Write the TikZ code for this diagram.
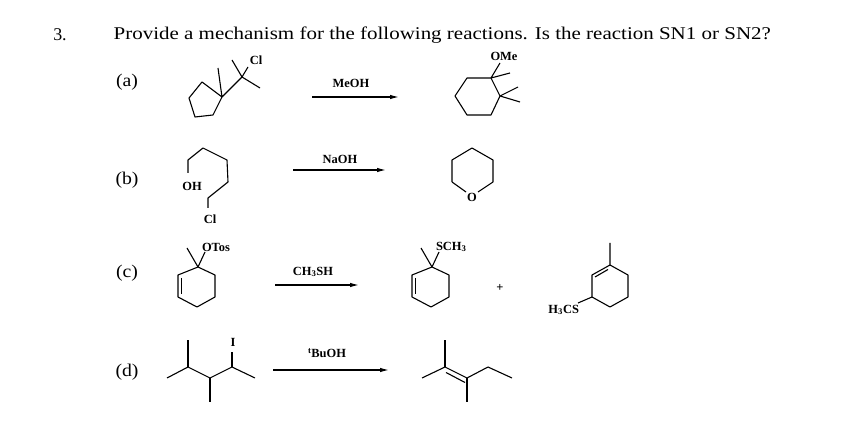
\documentclass[tikz,border=0pt]{standalone}
\usepackage{fontspec}
\usetikzlibrary{arrows.meta}
\setmainfont{Liberation Serif}
\begin{document}
\begin{tikzpicture}[x=1bp,y=-1bp,line width=1.1bp,
 lab/.style={font=\bfseries\fontsize{12.5}{13}\selectfont,inner sep=0.5bp},
 arr/.style={line width=1.6bp,-{Latex[length=10bp,width=4.5bp]}},
 bnd/.style={line join=round}]
\useasboundingbox (0,0) rectangle (864,436);
\node (n3) at (60,35) {\fontsize{18}{20}\selectfont 3.};
\node[anchor=west,inner sep=0,xscale=1.17] (ttl) at (113,35) {\fontsize{18}{20}\selectfont Provide a mechanism for the following reactions. Is the reaction SN1 or SN2?};
\foreach \t/\y in {a/82,b/180,c/273,d/372}
 \node[xscale=1.1] (l\t) at (127,\y) {\fontsize{18}{20}\selectfont (\t)};
% (a) reactant
\draw[bnd] (189,98)--(202,82)--(222,97)--(213,115)--(195,117)--cycle;
\draw (222,97)--(218,68) (222,97)--(242,77)--(232,60) (242,77)--(260,88) (242,77)--(248,67);
\node[lab] (cl1) at (256,60) {Cl};
% arrow a
\coordinate (a1) at (312,97); \coordinate (a2) at (400,97);
\draw[arr] (a1)--(a2);
\node[lab] (r1) at (351,83) {MeOH};
% (a) product
\draw[bnd] (467,78)--(491,78)--(500,96)--(491,115)--(467,115)--(455,96)--cycle;
\draw (491,78)--(500,63) (491,78)--(510,73) (500,96)--(518,87) (500,96)--(520,102);
\node[lab] (ome) at (504,56) {OMe};
% (b) reactant
\draw[bnd] (188,173)--(188,160)--(203,148)--(227,160)--(228,182)--(208,198)--(208,208);
\node[lab] (oh) at (192,186) {OH};
\node[lab] (cl2) at (210,219) {Cl};
\coordinate (b1) at (293,170); \coordinate (b2) at (387,170);
\draw[arr] (b1)--(b2);
\node[lab] (r2) at (340,159) {NaOH};
\draw[bnd] (452,182)--(452,160)--(472,148)--(493,160)--(493,182)--(478,192);
\draw (452,182)--(466,192);
\node[lab] (ox) at (472,197) {O};
% (c) reactant
\draw[bnd] (198,267)--(215,275)--(215,297)--(197,307)--(178,297)--(178,275)--cycle;
\draw (181.5,278)--(181.5,294);
\draw (198,267)--(187,248) (198,267)--(205,252);
\node[lab,anchor=west] (otos) at (201,247) {OTos};
\coordinate (c1) at (275,285); \coordinate (c2) at (360,285);
\draw[arr] (c1)--(c2);
\node[lab] (r3) at (313,272) {CH\textsubscript{3}SH};
\begin{scope}[xshift=234bp]
\draw[bnd] (198,267)--(215,275)--(215,297)--(197,307)--(178,297)--(178,275)--cycle;
\draw (181.5,278)--(181.5,294);
\draw (198,267)--(187,248) (198,267)--(205,252);
\end{scope}
\node[lab,anchor=west] (sch) at (435,247) {SCH\textsubscript{3}};
\node[lab] (plus) at (500,288) {+};
\draw[bnd] (610,265)--(628,275)--(628,297)--(610,307)--(592,297)--(592,275)--cycle;
\draw (608,269.5)--(595,277);
\draw (610,265)--(610,243) (592,297)--(578,303);
\node[lab,anchor=east] (hcs) at (580,310) {H\textsubscript{3}CS};
% (d)
\draw[bnd] (167,378)--(188,367)--(210,378)--(232,367)--(255,378);
\draw (188,367)--(188,340) (210,378)--(210,402) (232,367)--(232,352);
\node[lab] (iod) at (233,342) {I};
\coordinate (d1) at (273,370); \coordinate (d2) at (390,370);
\draw[arr] (d1)--(d2);
\node[lab] (r4) at (327,353) {\textsuperscript{t}BuOH};
\draw[bnd] (422,378)--(445,367)--(467,378)--(488,367)--(512,378);
\draw (446,372.5)--(465,382.5);
\draw (445,367)--(445,340) (467,378)--(467,402);
\end{tikzpicture}
\end{document}
